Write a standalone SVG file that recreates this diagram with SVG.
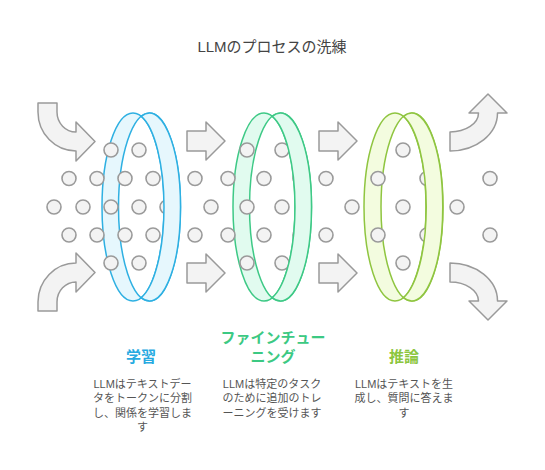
<svg xmlns="http://www.w3.org/2000/svg" width="545" height="470" viewBox="0 0 545 470">
<style>
.arrow{fill:#f3f3f3;stroke:#9a9a9a;stroke-width:1.5;stroke-linejoin:round}
.dot{fill:#f3f3f3;stroke:#9a9a9a;stroke-width:1.6}
.ring{fill-rule:evenodd;stroke-width:1.5}
.blue{fill:#e6f7fd;stroke:#2eb0e2}
.green{fill:#e1fbef;stroke:#3ec986}
.lime{fill:#f3fcdf;stroke:#8fc540}
.title{font-family:"Liberation Sans","Noto Sans CJK JP",sans-serif;font-size:15px;fill:#444;text-anchor:middle}
.label{font-family:"Noto Sans CJK JP",sans-serif;font-size:15px;font-weight:bold;text-anchor:middle}
.desc{font-family:"Liberation Sans","Noto Sans CJK JP",sans-serif;font-size:11px;fill:#555;text-anchor:middle}
</style>
<rect width="545" height="470" fill="#ffffff"/>
<text class="title" x="272" y="52">LLMのプロセスの洗練</text>

<g id="connectors">
<path class="arrow" d="M38,103 H57 V112 A19,20 0 0 0 76,132 V122 L95,141.5 L76,161 V151 A38,39 0 0 1 38,112 Z"/>
<path class="arrow" d="M38,311 H57 V302 A19,20 0 0 1 76,282 V292 L95,272.5 L76,253 V263 A38,39 0 0 0 38,302 Z"/>
<path class="arrow" d="M187,131 H206 V122 L225,141 L206,160 V151 H187 Z"/>
<path class="arrow" d="M187,263 H206 V254 L225,273 L206,292 V283 H187 Z"/>
<path class="arrow" d="M319,131 H338 V122 L357,141 L338,160 V151 H319 Z"/>
<path class="arrow" d="M319,263 H338 V254 L357,273 L338,292 V283 H319 Z"/>
<path class="arrow" d="M450,132 A28.5,19 0 0 0 478.5,113 H469 L488,94 L507,113 H497.5 A47.5,38 0 0 1 450,151 Z"/>
<path class="arrow" d="M450,282 A28.5,19 0 0 1 478.5,301 H469 L488,320 L507,301 H497.5 A47.5,38 0 0 0 450,263 Z"/>
</g>

<g id="ring-learning">
<path class="ring blue" d="M102,207 a31,94 0 1 0 62,0 a31,94 0 1 0 -62,0 Z M118.5,207 a31,94 0 1 0 62,0 a31,94 0 1 0 -62,0 Z"/>
</g>
<g id="ring-finetuning">
<path class="ring green" d="M233,207 a31,94 0 1 0 62,0 a31,94 0 1 0 -62,0 Z M249.5,207 a31,94 0 1 0 62,0 a31,94 0 1 0 -62,0 Z"/>
</g>
<g id="ring-inference">
<path class="ring lime" d="M364,207 a31,94 0 1 0 62,0 a31,94 0 1 0 -62,0 Z M381,207 a31,94 0 1 0 62,0 a31,94 0 1 0 -62,0 Z"/>
</g>

<g id="dots">
<circle class="dot" cx="111" cy="150" r="7"/><circle class="dot" cx="139" cy="150" r="7"/><circle class="dot" cx="247" cy="150" r="7"/><circle class="dot" cx="282" cy="150" r="7"/><circle class="dot" cx="403" cy="150" r="7"/>
<circle class="dot" cx="69" cy="178.5" r="7"/><circle class="dot" cx="97" cy="178.5" r="7"/><circle class="dot" cx="125" cy="178.5" r="7"/><circle class="dot" cx="153" cy="178.5" r="7"/><circle class="dot" cx="195" cy="178.5" r="7"/><circle class="dot" cx="228" cy="178.5" r="7"/><circle class="dot" cx="264" cy="178.5" r="7"/><circle class="dot" cx="300" cy="178.5" r="7"/><circle class="dot" cx="326" cy="178.5" r="7"/><circle class="dot" cx="378" cy="178.5" r="7"/><circle class="dot" cx="427" cy="178.5" r="7"/><circle class="dot" cx="490" cy="178.5" r="7"/>
<circle class="dot" cx="54" cy="207" r="7"/><circle class="dot" cx="83" cy="207" r="7"/><circle class="dot" cx="111" cy="207" r="7"/><circle class="dot" cx="139" cy="207" r="7"/><circle class="dot" cx="167" cy="207" r="7"/><circle class="dot" cx="211" cy="207" r="7"/><circle class="dot" cx="247" cy="207" r="7"/><circle class="dot" cx="282" cy="207" r="7"/><circle class="dot" cx="352" cy="207" r="7"/><circle class="dot" cx="403" cy="207" r="7"/><circle class="dot" cx="457" cy="207" r="7"/>
<circle class="dot" cx="69" cy="235" r="7"/><circle class="dot" cx="97" cy="235" r="7"/><circle class="dot" cx="125" cy="235" r="7"/><circle class="dot" cx="153" cy="235" r="7"/><circle class="dot" cx="195" cy="235" r="7"/><circle class="dot" cx="228" cy="235" r="7"/><circle class="dot" cx="264" cy="235" r="7"/><circle class="dot" cx="300" cy="235" r="7"/><circle class="dot" cx="326" cy="235" r="7"/><circle class="dot" cx="378" cy="235" r="7"/><circle class="dot" cx="427" cy="235" r="7"/><circle class="dot" cx="490" cy="235" r="7"/>
<circle class="dot" cx="111" cy="263" r="7"/><circle class="dot" cx="139" cy="263" r="7"/><circle class="dot" cx="247" cy="263" r="7"/><circle class="dot" cx="282" cy="263" r="7"/><circle class="dot" cx="403" cy="263" r="7"/>
</g>

<g id="ring-fronts">
<path class="blue" stroke-width="1.5" d="M141.25,116.4 A31,94 0 1 1 141.25,297.6 A31,94 0 0 0 141.25,116.4 Z"/>
<path class="green" stroke-width="1.5" d="M272.25,116.4 A31,94 0 1 1 272.25,297.6 A31,94 0 0 0 272.25,116.4 Z"/>
<path class="lime" stroke-width="1.5" d="M403.5,116.4 A31,94 0 1 1 403.5,297.6 A31,94 0 0 0 403.5,116.4 Z"/>
</g>

<g id="node-learning">
<text class="label" x="141" y="361.5" fill="#27aae1">学習</text>
<text class="desc" x="142.5"><tspan x="142.5" y="387.5">LLMはテキストデー</tspan><tspan x="142.5" y="402">タをトークンに分割</tspan><tspan x="142.5" y="416.5">し、関係を学習しま</tspan><tspan x="142.5" y="431">す</tspan></text>
</g>
<g id="node-finetuning">
<text class="label" x="273" y="343" fill="#3cc983">ファインチュー</text>
<text class="label" x="273" y="362" fill="#3cc983">ニング</text>
<text class="desc" x="272"><tspan x="272" y="387.5">LLMは特定のタスク</tspan><tspan x="272" y="402">のために追加のトレ</tspan><tspan x="272" y="416.5">ーニングを受けます</tspan></text>
</g>
<g id="node-inference">
<text class="label" x="404" y="361.5" fill="#8cc63f">推論</text>
<text class="desc" x="404"><tspan x="404" y="387.5">LLMはテキストを生</tspan><tspan x="404" y="402">成し、質問に答えま</tspan><tspan x="404" y="416.5">す</tspan></text>
</g>
</svg>
